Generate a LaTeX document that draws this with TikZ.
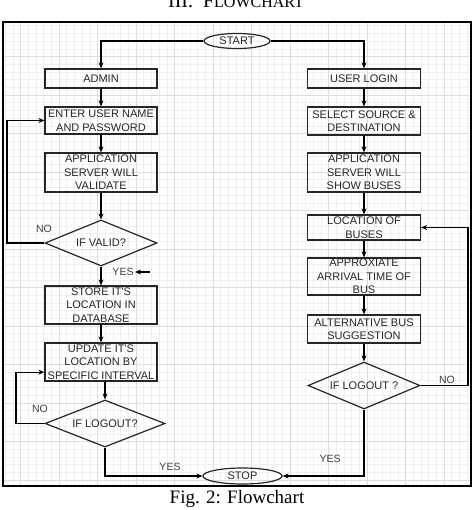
\documentclass[tikz,border=0pt]{standalone}
\usepackage{fontspec}
\setmainfont{Liberation Serif}
\newfontfamily\chartfont{Liberation Sans}
\usetikzlibrary{
	shapes.geometric,
	positioning,
	arrows.meta,
	calc
}

\tikzset{
	process/.style={draw=black!85, line width=1.2pt, rectangle, minimum width=112pt,
		inner sep=0pt, align=center, text=black!85,
		font=\chartfont\fontsize{11}{13.5}\selectfont},
	decision/.style={draw=black!85, line width=1.2pt, diamond, aspect=2.4, inner sep=0pt,
		text=black!85, font=\chartfont\fontsize{11}{12}\selectfont},
	terminal/.style={draw=black!85, line width=1.2pt, ellipse, inner sep=0pt,
		text=black!85, font=\chartfont\fontsize{11}{12}\selectfont},
	flow/.style={line width=1.2pt, -{Stealth[length=6pt,width=5pt]}},
	answer/.style={text=black!75, font=\chartfont\fontsize{10.5}{11}\selectfont},
	minorgrid/.style={draw=black!6, line width=0.5pt},
	majorgrid/.style={draw=black!13, line width=0.6pt}
}

\begin{document}
\begin{tikzpicture}[x=1pt,y=-1pt]
	\useasboundingbox (0,0) rectangle (474,510);

	% background grid and frame
	\begin{scope}
		\clip (3,22) rectangle (471,486);
		\draw[minorgrid, shift={(20.5,18)}, step=7.7pt] (-30,480) grid (470,-10);
		\draw[majorgrid, shift={(20.5,18)}, step=38.5pt] (-40,480) grid (470,-40);
	\end{scope}
	\draw[line width=2pt] (3,22) rectangle (471,486);

	\node[anchor=base] (title) at (236,7.5)
		{\fontsize{20}{20}\selectfont III.\ \ F\fontsize{16}{16}\selectfont LOWCHART};
	\node (caption) at (237,499) {\fontsize{19}{19}\selectfont Fig. 2: Flowchart};

	\draw
		node[terminal,minimum width=66pt,minimum height=15pt] (start) at (237,41) {START}
		node[terminal,minimum width=79pt,minimum height=16pt] (stop)  at (242.5,476) {STOP}

		% admin side
		node[process,minimum height=19pt] (admin)    at (101,78.5)  {ADMIN}
		node[process,minimum height=27pt] (enter)    at (101,120.5) {ENTER USER NAME\\AND PASSWORD}
		node[process,minimum height=39pt] (validate) at (101,172.5) {APPLICATION\\SERVER WILL\\VALIDATE}
		node[decision,minimum width=112pt,minimum height=46pt] (valid) at (101,243) {IF VALID?}
		node[process,minimum height=38pt] (store)    at (101,305)   {STORE IT'S\\LOCATION IN\\DATABASE}
		node[process,minimum height=38pt] (update)   at (101,362)   {UPDATE IT'S\\LOCATION BY\\SPECIFIC INTERVAL}
		node[decision,minimum width=120pt,minimum height=47pt] (logoutA) at (105,423.5) {IF LOGOUT?}

		% user side
		node[process,minimum width=113pt,minimum height=19pt] (login)   at (364,78.5)  {USER LOGIN}
		node[process,minimum width=113pt,minimum height=28pt] (select)  at (364,121)   {SELECT SOURCE \&\\DESTINATION}
		node[process,minimum width=113pt,minimum height=39pt] (show)    at (364,172.5) {APPLICATION\\SERVER WILL\\SHOW BUSES}
		node[process,minimum width=113pt,minimum height=25pt] (locbus)  at (364,227.5) {LOCATION OF\\BUSES}
		node[process,minimum width=113pt,minimum height=37pt] (arrival) at (364,276.5) {APPROXIATE\\ARRIVAL TIME OF\\BUS}
		node[process,minimum width=113pt,minimum height=28pt] (altern)  at (364,329)   {ALTERNATIVE BUS\\SUGGESTION}
		node[decision,minimum width=112pt,minimum height=47pt] (logoutU) at (364,385.5) {IF LOGOUT ?}
	;

	\coordinate (noA) at (7,243);
	\coordinate (noB) at (16,423.5);
	\coordinate (noC) at (468,385.5);
	\coordinate (yesTail) at (150,272);
	\coordinate (yesTip)  at (135,272);

	\draw[flow] (start.west) -| (admin.north);
	\draw[flow] (start.east) -| (login.north);

	\draw[flow] (admin) -- (enter);
	\draw[flow] (enter) -- (validate);
	\draw[flow] (validate) -- (valid);
	\draw[flow] (valid) -- (store);
	\draw[flow] (store) -- (update);
	\draw[flow] (logoutA.north |- update.south) -- (logoutA.north);
	\draw[flow] (valid.west) -- (noA) |- (enter.west);
	\draw[flow] (logoutA.west) -- (noB) |- ($(update.south west)!.24!(update.north west)$);
	\draw[flow] (logoutA.south) |- (stop.west);
	\draw[flow] (yesTail) -- (yesTip);

	\draw[flow] (login) -- (select);
	\draw[flow] (select) -- (show);
	\draw[flow] (show) -- (locbus);
	\draw[flow] (locbus) -- (arrival);
	\draw[flow] (arrival) -- (altern);
	\draw[flow] (altern) -- (logoutU);
	\draw[flow] (logoutU.east) -- (noC) |- (locbus.east);
	\draw[flow] (logoutU.south) |- (stop.east);

	\node[answer] (noValid)   at (44,229)  {NO};
	\node[answer] (yesValid)  at (123,272) {YES};
	\node[answer] (noLogA)    at (40,409)  {NO};
	\node[answer] (yesLogA)   at (170,467) {YES};
	\node[answer] (noLogU)    at (447,380) {NO};
	\node[answer] (yesLogU)   at (330,459) {YES};
\end{tikzpicture}
\end{document}
